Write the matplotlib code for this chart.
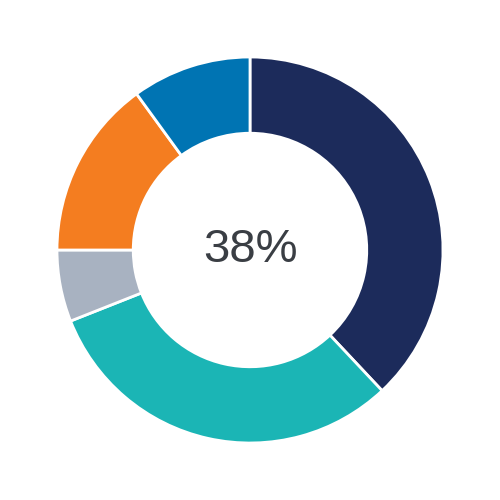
import matplotlib
matplotlib.use('Agg')
import matplotlib.pyplot as plt

# slice shares (percent), clockwise from 12 o'clock
labels = ['Navy', 'Teal', 'Gray', 'Orange', 'Blue']
shares = [38, 31, 6, 15, 10]
colors = ['#1c2b5b', '#1bb5b5', '#a8b2c1', '#f47d20', '#0074b3']
center_text = '38%'

fig = plt.figure(figsize=(5, 5), dpi=100)
ax = fig.add_axes([0, 0, 1, 1])

ax.pie(shares, colors=colors, startangle=90, counterclock=False,
       radius=1.0,
       wedgeprops=dict(width=0.395, edgecolor='white', linewidth=2))

ax.text(0, 0, center_text, ha='center', va='center',
        fontsize=34, color='#3a3e44', family='Liberation Sans')

lim = 250 / 193.0
ax.set_xlim(-lim, lim)
ax.set_ylim(-lim, lim)
ax.set_aspect('equal')
ax.axis('off')

fig.savefig('out.png', dpi=100, facecolor='white')
plt.close('all')
